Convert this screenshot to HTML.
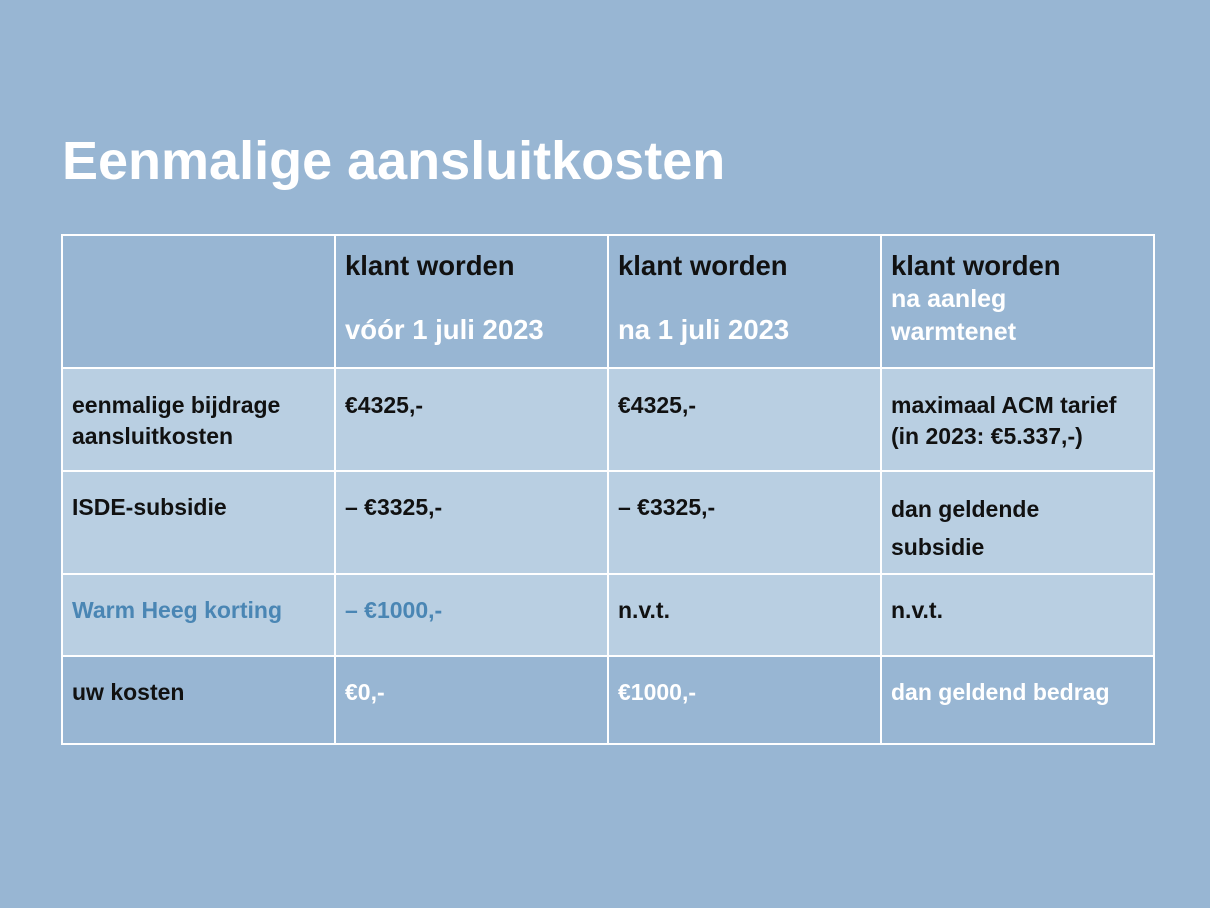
<!DOCTYPE html>
<html><head><meta charset="utf-8"><style>
body{margin:0;width:1210px;height:908px;background:#98b6d3;position:relative;overflow:hidden;font-family:"Liberation Sans",sans-serif;}
.t{position:absolute;left:62px;top:130px;font-size:54px;color:#fff;font-weight:bold;letter-spacing:0px}
.c{position:absolute;box-sizing:border-box;font-weight:bold;font-size:23px;color:#111;line-height:31px;padding:16px 0 0 10px}
.l{background:#b9cfe2}
.line{position:absolute;background:#fff}
.w{color:#fff}.b{color:#4a86b4}
.h{font-size:27.5px}
</style></head><body>
<div class="t">Eenmalige aansluitkosten</div>
<div class="c l" style="left:62px;top:368px;width:1092px;height:288px;padding:0"></div>

<div class="c h" style="left:335px;top:235px;line-height:32px;padding-top:15px">klant worden<br><br><span class="w">vóór 1 juli 2023</span></div>
<div class="c h" style="left:608px;top:235px;line-height:32px;padding-top:15px">klant worden<br><br><span class="w">na 1 juli 2023</span></div>
<div class="c h" style="left:881px;top:235px;line-height:32px;padding-top:15px">klant worden<br><span class="w" style="font-size:25px">na aanleg<br>warmtenet</span></div>

<div class="c" style="left:62px;top:374px">eenmalige bijdrage<br>aansluitkosten</div>
<div class="c" style="left:335px;top:374px">€4325,-</div>
<div class="c" style="left:608px;top:374px">€4325,-</div>
<div class="c" style="left:881px;top:374px">maximaal ACM tarief<br>(in 2023: €5.337,-)</div>

<div class="c" style="left:62px;top:476px">ISDE-subsidie</div>
<div class="c" style="left:335px;top:476px">– €3325,-</div>
<div class="c" style="left:608px;top:476px">– €3325,-</div>
<div class="c" style="left:881px;top:474px;line-height:38px">dan geldende<br>subsidie</div>

<div class="c b" style="left:62px;top:579px">Warm Heeg korting</div>
<div class="c b" style="left:335px;top:579px">– €1000,-</div>
<div class="c" style="left:608px;top:579px">n.v.t.</div>
<div class="c" style="left:881px;top:579px">n.v.t.</div>

<div class="c" style="left:62px;top:661px">uw kosten</div>
<div class="c w" style="left:335px;top:661px">€0,-</div>
<div class="c w" style="left:608px;top:661px">€1000,-</div>
<div class="c w" style="left:881px;top:661px">dan geldend bedrag</div>

<div class="line" style="left:61px;top:234px;width:1094px;height:2px"></div>
<div class="line" style="left:61px;top:367px;width:1094px;height:2px"></div>
<div class="line" style="left:61px;top:470px;width:1094px;height:2px"></div>
<div class="line" style="left:61px;top:573px;width:1094px;height:2px"></div>
<div class="line" style="left:61px;top:655px;width:1094px;height:2px"></div>
<div class="line" style="left:61px;top:743px;width:1094px;height:2px"></div>
<div class="line" style="left:61px;top:234px;width:2px;height:511px"></div>
<div class="line" style="left:334px;top:234px;width:2px;height:511px"></div>
<div class="line" style="left:607px;top:234px;width:2px;height:511px"></div>
<div class="line" style="left:880px;top:234px;width:2px;height:511px"></div>
<div class="line" style="left:1153px;top:234px;width:2px;height:511px"></div>
</body></html>
